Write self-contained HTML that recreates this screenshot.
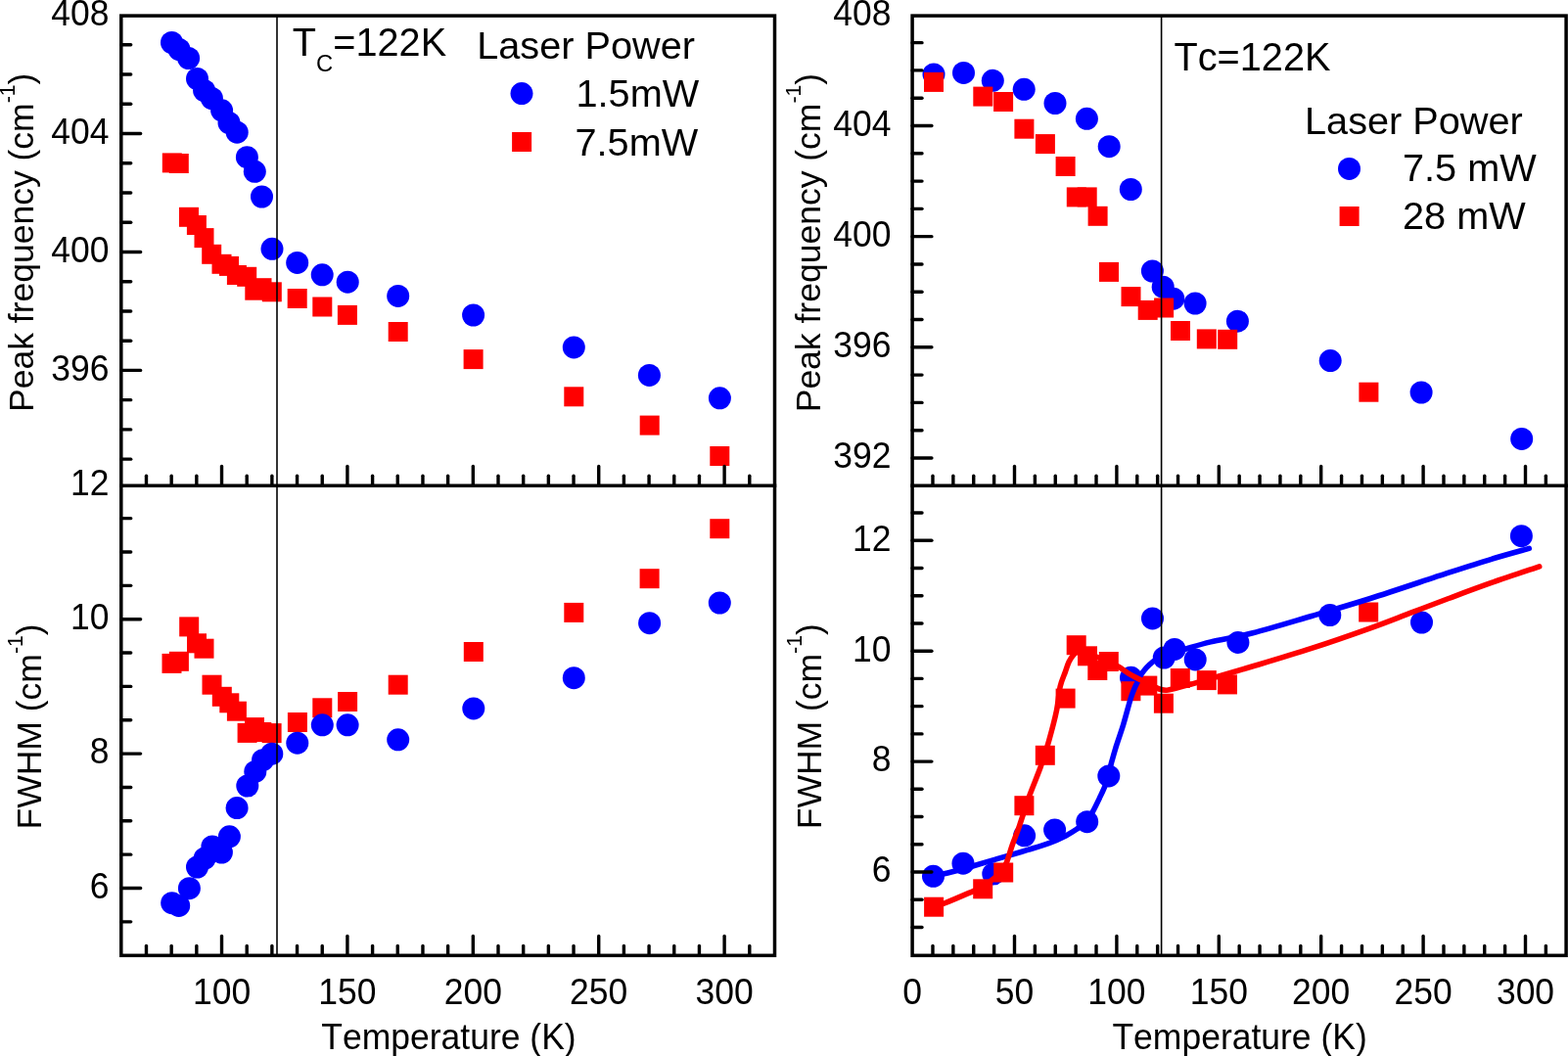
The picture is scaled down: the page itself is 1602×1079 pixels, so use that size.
<!DOCTYPE html>
<html><head><meta charset="utf-8"><title>Raman peak frequency and FWHM vs temperature</title>
<style>html,body{margin:0;padding:0;background:#fff;}svg{display:block;} text{font-kerning:none;}</style>
</head><body>
<svg width="1602" height="1079" viewBox="0 0 1602 1079" font-family='"Liberation Sans", Arial, Helvetica, sans-serif' fill="#000">
<rect x="0" y="0" width="1602" height="1079" fill="#fff"/>
<circle cx="175.50" cy="43.50" r="11.5" fill="#0000ff"/>
<circle cx="183.00" cy="50.50" r="11.5" fill="#0000ff"/>
<circle cx="192.60" cy="59.50" r="11.5" fill="#0000ff"/>
<circle cx="201.50" cy="80.50" r="11.5" fill="#0000ff"/>
<circle cx="208.60" cy="92.50" r="11.5" fill="#0000ff"/>
<circle cx="216.40" cy="100.50" r="11.5" fill="#0000ff"/>
<circle cx="226.60" cy="112.80" r="11.5" fill="#0000ff"/>
<circle cx="234.00" cy="125.50" r="11.5" fill="#0000ff"/>
<circle cx="242.20" cy="135.20" r="11.5" fill="#0000ff"/>
<circle cx="252.40" cy="160.70" r="11.5" fill="#0000ff"/>
<circle cx="260.30" cy="175.30" r="11.5" fill="#0000ff"/>
<circle cx="267.50" cy="201.00" r="11.5" fill="#0000ff"/>
<circle cx="278.00" cy="254.30" r="11.5" fill="#0000ff"/>
<circle cx="303.70" cy="268.40" r="11.5" fill="#0000ff"/>
<circle cx="329.20" cy="280.80" r="11.5" fill="#0000ff"/>
<circle cx="355.20" cy="288.20" r="11.5" fill="#0000ff"/>
<circle cx="406.70" cy="302.40" r="11.5" fill="#0000ff"/>
<circle cx="483.60" cy="322.00" r="11.5" fill="#0000ff"/>
<circle cx="586.30" cy="354.90" r="11.5" fill="#0000ff"/>
<circle cx="663.40" cy="383.40" r="11.5" fill="#0000ff"/>
<circle cx="735.40" cy="406.80" r="11.5" fill="#0000ff"/>
<rect x="165.80" y="156.40" width="20.0" height="20.0" fill="#ff0000"/>
<rect x="172.80" y="157.00" width="20.0" height="20.0" fill="#ff0000"/>
<rect x="183.00" y="211.80" width="20.0" height="20.0" fill="#ff0000"/>
<rect x="190.90" y="220.00" width="20.0" height="20.0" fill="#ff0000"/>
<rect x="198.50" y="233.10" width="20.0" height="20.0" fill="#ff0000"/>
<rect x="206.20" y="249.80" width="20.0" height="20.0" fill="#ff0000"/>
<rect x="216.50" y="259.80" width="20.0" height="20.0" fill="#ff0000"/>
<rect x="224.00" y="261.90" width="20.0" height="20.0" fill="#ff0000"/>
<rect x="231.90" y="271.00" width="20.0" height="20.0" fill="#ff0000"/>
<rect x="242.20" y="272.80" width="20.0" height="20.0" fill="#ff0000"/>
<rect x="250.30" y="286.70" width="20.0" height="20.0" fill="#ff0000"/>
<rect x="257.50" y="284.20" width="20.0" height="20.0" fill="#ff0000"/>
<rect x="267.80" y="288.30" width="20.0" height="20.0" fill="#ff0000"/>
<rect x="293.70" y="295.00" width="20.0" height="20.0" fill="#ff0000"/>
<rect x="319.30" y="303.50" width="20.0" height="20.0" fill="#ff0000"/>
<rect x="344.90" y="311.90" width="20.0" height="20.0" fill="#ff0000"/>
<rect x="396.70" y="329.00" width="20.0" height="20.0" fill="#ff0000"/>
<rect x="473.60" y="357.10" width="20.0" height="20.0" fill="#ff0000"/>
<rect x="576.30" y="395.30" width="20.0" height="20.0" fill="#ff0000"/>
<rect x="653.70" y="424.60" width="20.0" height="20.0" fill="#ff0000"/>
<rect x="725.30" y="456.00" width="20.0" height="20.0" fill="#ff0000"/>
<rect x="165.50" y="667.90" width="20.0" height="20.0" fill="#ff0000"/>
<rect x="172.90" y="665.80" width="20.0" height="20.0" fill="#ff0000"/>
<rect x="183.20" y="630.40" width="20.0" height="20.0" fill="#ff0000"/>
<rect x="191.00" y="647.30" width="20.0" height="20.0" fill="#ff0000"/>
<rect x="198.50" y="652.70" width="20.0" height="20.0" fill="#ff0000"/>
<rect x="206.50" y="689.70" width="20.0" height="20.0" fill="#ff0000"/>
<rect x="216.80" y="701.80" width="20.0" height="20.0" fill="#ff0000"/>
<rect x="224.30" y="708.30" width="20.0" height="20.0" fill="#ff0000"/>
<rect x="231.90" y="716.70" width="20.0" height="20.0" fill="#ff0000"/>
<rect x="242.60" y="738.90" width="20.0" height="20.0" fill="#ff0000"/>
<rect x="250.00" y="733.10" width="20.0" height="20.0" fill="#ff0000"/>
<rect x="257.30" y="738.00" width="20.0" height="20.0" fill="#ff0000"/>
<rect x="267.60" y="739.10" width="20.0" height="20.0" fill="#ff0000"/>
<rect x="293.90" y="728.00" width="20.0" height="20.0" fill="#ff0000"/>
<rect x="319.30" y="713.30" width="20.0" height="20.0" fill="#ff0000"/>
<rect x="345.10" y="707.00" width="20.0" height="20.0" fill="#ff0000"/>
<rect x="396.70" y="689.70" width="20.0" height="20.0" fill="#ff0000"/>
<rect x="473.80" y="656.00" width="20.0" height="20.0" fill="#ff0000"/>
<rect x="576.30" y="615.90" width="20.0" height="20.0" fill="#ff0000"/>
<rect x="653.60" y="581.20" width="20.0" height="20.0" fill="#ff0000"/>
<rect x="725.30" y="530.20" width="20.0" height="20.0" fill="#ff0000"/>
<circle cx="175.70" cy="922.70" r="11.5" fill="#0000ff"/>
<circle cx="182.70" cy="925.40" r="11.5" fill="#0000ff"/>
<circle cx="193.40" cy="907.70" r="11.5" fill="#0000ff"/>
<circle cx="201.50" cy="886.00" r="11.5" fill="#0000ff"/>
<circle cx="209.20" cy="877.00" r="11.5" fill="#0000ff"/>
<circle cx="216.90" cy="865.00" r="11.5" fill="#0000ff"/>
<circle cx="226.40" cy="871.00" r="11.5" fill="#0000ff"/>
<circle cx="234.40" cy="854.80" r="11.5" fill="#0000ff"/>
<circle cx="242.10" cy="825.60" r="11.5" fill="#0000ff"/>
<circle cx="252.80" cy="803.00" r="11.5" fill="#0000ff"/>
<circle cx="260.80" cy="788.40" r="11.5" fill="#0000ff"/>
<circle cx="268.50" cy="776.70" r="11.5" fill="#0000ff"/>
<circle cx="277.80" cy="770.20" r="11.5" fill="#0000ff"/>
<circle cx="303.80" cy="759.20" r="11.5" fill="#0000ff"/>
<circle cx="329.30" cy="740.80" r="11.5" fill="#0000ff"/>
<circle cx="355.10" cy="740.80" r="11.5" fill="#0000ff"/>
<circle cx="406.70" cy="755.80" r="11.5" fill="#0000ff"/>
<circle cx="483.80" cy="723.90" r="11.5" fill="#0000ff"/>
<circle cx="586.30" cy="692.70" r="11.5" fill="#0000ff"/>
<circle cx="663.60" cy="636.70" r="11.5" fill="#0000ff"/>
<circle cx="735.30" cy="616.00" r="11.5" fill="#0000ff"/>
<circle cx="954.00" cy="76.00" r="11.5" fill="#0000ff"/>
<circle cx="984.50" cy="74.40" r="11.5" fill="#0000ff"/>
<circle cx="1014.30" cy="82.30" r="11.5" fill="#0000ff"/>
<circle cx="1046.20" cy="91.30" r="11.5" fill="#0000ff"/>
<circle cx="1078.00" cy="105.50" r="11.5" fill="#0000ff"/>
<circle cx="1110.40" cy="121.30" r="11.5" fill="#0000ff"/>
<circle cx="1133.20" cy="149.70" r="11.5" fill="#0000ff"/>
<circle cx="1155.30" cy="193.50" r="11.5" fill="#0000ff"/>
<circle cx="1177.40" cy="277.00" r="11.5" fill="#0000ff"/>
<circle cx="1188.20" cy="293.20" r="11.5" fill="#0000ff"/>
<circle cx="1198.80" cy="305.20" r="11.5" fill="#0000ff"/>
<circle cx="1221.10" cy="310.00" r="11.5" fill="#0000ff"/>
<circle cx="1264.40" cy="328.20" r="11.5" fill="#0000ff"/>
<circle cx="1359.20" cy="368.60" r="11.5" fill="#0000ff"/>
<circle cx="1452.10" cy="401.00" r="11.5" fill="#0000ff"/>
<circle cx="1554.70" cy="448.40" r="11.5" fill="#0000ff"/>
<rect x="944.00" y="73.90" width="20.0" height="20.0" fill="#ff0000"/>
<rect x="994.30" y="88.60" width="20.0" height="20.0" fill="#ff0000"/>
<rect x="1015.10" y="94.00" width="20.0" height="20.0" fill="#ff0000"/>
<rect x="1036.40" y="121.70" width="20.0" height="20.0" fill="#ff0000"/>
<rect x="1057.90" y="137.10" width="20.0" height="20.0" fill="#ff0000"/>
<rect x="1078.60" y="160.00" width="20.0" height="20.0" fill="#ff0000"/>
<rect x="1089.80" y="191.40" width="20.0" height="20.0" fill="#ff0000"/>
<rect x="1100.70" y="191.40" width="20.0" height="20.0" fill="#ff0000"/>
<rect x="1111.60" y="210.80" width="20.0" height="20.0" fill="#ff0000"/>
<rect x="1123.00" y="267.90" width="20.0" height="20.0" fill="#ff0000"/>
<rect x="1145.50" y="293.10" width="20.0" height="20.0" fill="#ff0000"/>
<rect x="1162.70" y="306.90" width="20.0" height="20.0" fill="#ff0000"/>
<rect x="1179.10" y="304.50" width="20.0" height="20.0" fill="#ff0000"/>
<rect x="1196.00" y="328.00" width="20.0" height="20.0" fill="#ff0000"/>
<rect x="1222.80" y="336.40" width="20.0" height="20.0" fill="#ff0000"/>
<rect x="1244.20" y="336.80" width="20.0" height="20.0" fill="#ff0000"/>
<rect x="1388.40" y="390.70" width="20.0" height="20.0" fill="#ff0000"/>
<circle cx="953.50" cy="895.30" r="11.5" fill="#0000ff"/>
<circle cx="984.00" cy="882.20" r="11.5" fill="#0000ff"/>
<circle cx="1014.80" cy="893.00" r="11.5" fill="#0000ff"/>
<circle cx="1046.60" cy="853.80" r="11.5" fill="#0000ff"/>
<circle cx="1077.60" cy="848.00" r="11.5" fill="#0000ff"/>
<circle cx="1110.70" cy="839.70" r="11.5" fill="#0000ff"/>
<circle cx="1132.80" cy="792.90" r="11.5" fill="#0000ff"/>
<circle cx="1155.50" cy="692.30" r="11.5" fill="#0000ff"/>
<circle cx="1177.50" cy="631.90" r="11.5" fill="#0000ff"/>
<circle cx="1189.30" cy="672.00" r="11.5" fill="#0000ff"/>
<circle cx="1200.00" cy="663.40" r="11.5" fill="#0000ff"/>
<circle cx="1221.20" cy="673.90" r="11.5" fill="#0000ff"/>
<circle cx="1264.90" cy="656.40" r="11.5" fill="#0000ff"/>
<circle cx="1358.80" cy="628.50" r="11.5" fill="#0000ff"/>
<circle cx="1452.50" cy="636.00" r="11.5" fill="#0000ff"/>
<circle cx="1554.40" cy="547.70" r="11.5" fill="#0000ff"/>
<rect x="944.10" y="916.70" width="20.0" height="20.0" fill="#ff0000"/>
<rect x="994.20" y="898.30" width="20.0" height="20.0" fill="#ff0000"/>
<rect x="1015.20" y="881.50" width="20.0" height="20.0" fill="#ff0000"/>
<rect x="1036.40" y="813.20" width="20.0" height="20.0" fill="#ff0000"/>
<rect x="1057.80" y="761.80" width="20.0" height="20.0" fill="#ff0000"/>
<rect x="1078.60" y="703.60" width="20.0" height="20.0" fill="#ff0000"/>
<rect x="1089.70" y="649.20" width="20.0" height="20.0" fill="#ff0000"/>
<rect x="1101.00" y="660.30" width="20.0" height="20.0" fill="#ff0000"/>
<rect x="1111.30" y="675.00" width="20.0" height="20.0" fill="#ff0000"/>
<rect x="1122.80" y="666.00" width="20.0" height="20.0" fill="#ff0000"/>
<rect x="1145.40" y="696.20" width="20.0" height="20.0" fill="#ff0000"/>
<rect x="1162.30" y="690.60" width="20.0" height="20.0" fill="#ff0000"/>
<rect x="1178.90" y="708.70" width="20.0" height="20.0" fill="#ff0000"/>
<rect x="1195.80" y="683.00" width="20.0" height="20.0" fill="#ff0000"/>
<rect x="1222.80" y="685.10" width="20.0" height="20.0" fill="#ff0000"/>
<rect x="1244.00" y="689.40" width="20.0" height="20.0" fill="#ff0000"/>
<rect x="1388.20" y="615.50" width="20.0" height="20.0" fill="#ff0000"/>
<path d="M953.50,895.50 C957.08,894.63 968.02,892.13 975.00,890.30 C981.98,888.47 986.68,887.03 995.40,884.50 C1004.12,881.97 1018.20,877.78 1027.30,875.10 C1036.40,872.42 1042.52,870.68 1050.00,868.40 C1057.48,866.12 1065.72,863.82 1072.20,861.40 C1078.68,858.98 1084.27,856.25 1088.90,853.90 C1093.53,851.55 1096.48,849.70 1100.00,847.30 C1103.52,844.90 1107.22,842.57 1110.00,839.50 C1112.78,836.43 1114.48,832.88 1116.70,828.90 C1118.92,824.92 1121.27,819.87 1123.30,815.60 C1125.33,811.33 1127.42,807.23 1128.90,803.30 C1130.38,799.37 1131.10,795.97 1132.20,792.00 C1133.30,788.03 1134.12,784.47 1135.50,779.50 C1136.88,774.53 1138.45,768.78 1140.50,762.20 C1142.55,755.62 1145.42,747.87 1147.80,740.00 C1150.18,732.13 1153.03,720.83 1154.80,715.00 C1156.57,709.17 1157.30,707.77 1158.40,705.00 C1159.50,702.23 1160.55,700.15 1161.40,698.40 C1162.25,696.65 1163.15,695.15 1163.50,694.50 L1163.50,694.50 C1163.75,693.83 1164.05,692.13 1165.00,690.50 C1165.95,688.87 1167.57,686.65 1169.20,684.70 C1170.83,682.75 1173.00,680.50 1174.80,678.80 C1176.60,677.10 1177.63,676.00 1180.00,674.50 C1182.37,673.00 1185.67,671.15 1189.00,669.80 C1192.33,668.45 1196.33,667.50 1200.00,666.40 C1203.67,665.30 1204.83,664.95 1211.00,663.20 C1217.17,661.45 1225.50,658.63 1237.00,655.90 C1248.50,653.17 1262.83,651.20 1280.00,646.80 C1297.17,642.40 1320.00,635.38 1340.00,629.50 C1360.00,623.62 1376.67,618.88 1400.00,611.50 C1423.33,604.12 1459.25,591.93 1480.00,585.20 C1500.75,578.47 1510.78,575.23 1524.50,571.10 C1538.22,566.97 1556.00,562.18 1562.30,560.40" fill="none" stroke="#0000ff" stroke-width="5.6" stroke-linecap="round" stroke-linejoin="round"/>
<path d="M954.00,926.60 C955.82,926.00 958.90,925.37 964.90,923.00 C970.90,920.63 983.48,915.23 990.00,912.40 C996.52,909.57 999.67,908.57 1004.00,906.00 C1008.33,903.43 1012.67,899.92 1016.00,897.00 C1019.33,894.08 1021.92,891.17 1024.00,888.50 C1026.08,885.83 1026.77,885.25 1028.50,881.00 C1030.23,876.75 1032.20,869.28 1034.40,863.00 C1036.60,856.72 1038.82,851.58 1041.70,843.30 C1044.58,835.02 1048.10,823.30 1051.70,813.30 C1055.30,803.30 1059.97,792.73 1063.30,783.30 C1066.63,773.87 1069.00,766.25 1071.70,756.70 C1074.40,747.15 1077.58,735.22 1079.50,726.00 C1081.42,716.78 1081.72,707.98 1083.20,701.40 C1084.68,694.82 1086.92,690.70 1088.40,686.50 C1089.88,682.30 1090.75,679.03 1092.10,676.20 C1093.45,673.37 1095.15,671.12 1096.50,669.50 C1097.85,667.88 1098.62,667.17 1100.20,666.50 C1101.78,665.83 1102.70,664.75 1106.00,665.50 C1109.30,666.25 1115.50,669.08 1120.00,671.00 C1124.50,672.92 1129.20,675.28 1133.00,677.00 C1136.80,678.72 1139.40,679.42 1142.80,681.30 C1146.20,683.18 1149.78,686.13 1153.40,688.30 C1157.02,690.47 1160.90,692.43 1164.50,694.30 C1168.10,696.17 1171.70,697.88 1175.00,699.50 C1178.30,701.12 1181.63,703.05 1184.30,704.00 C1186.97,704.95 1189.07,705.10 1191.00,705.20 C1192.93,705.30 1191.75,705.58 1195.90,704.60 C1200.05,703.62 1211.50,700.47 1215.90,699.30 C1220.30,698.13 1211.62,700.68 1222.30,697.60 C1232.98,694.52 1260.38,686.67 1280.00,680.80 C1299.62,674.93 1320.00,668.90 1340.00,662.40 C1360.00,655.90 1383.33,647.75 1400.00,641.80 C1416.67,635.85 1426.67,631.75 1440.00,626.70 C1453.33,621.65 1465.92,616.75 1480.00,611.50 C1494.08,606.25 1509.05,600.63 1524.50,595.20 C1539.95,589.77 1564.67,581.62 1572.70,578.90" fill="none" stroke="#ff0000" stroke-width="5.6" stroke-linecap="round" stroke-linejoin="round"/>
<line x1="283.00" y1="16.10" x2="283.00" y2="976.30" stroke="#000" stroke-width="1.6" stroke-linecap="butt"/>
<line x1="1186.60" y1="16.10" x2="1186.60" y2="976.30" stroke="#000" stroke-width="1.6" stroke-linecap="butt"/>
<g fill="none" stroke="#000" stroke-width="3.5" stroke-linecap="square">
<rect x="123.80" y="16.10" width="667.70" height="960.20"/>
<line x1="123.80" y1="496.20" x2="791.50" y2="496.20"/>
<rect x="932.10" y="16.10" width="668.00" height="960.20"/>
<line x1="932.10" y1="496.20" x2="1600.10" y2="496.20"/>
</g>
<line x1="149.48" y1="496.20" x2="149.48" y2="486.30" stroke="#000" stroke-width="3.4" stroke-linecap="round"/>
<line x1="175.16" y1="496.20" x2="175.16" y2="486.30" stroke="#000" stroke-width="3.4" stroke-linecap="round"/>
<line x1="200.84" y1="496.20" x2="200.84" y2="486.30" stroke="#000" stroke-width="3.4" stroke-linecap="round"/>
<line x1="226.52" y1="496.20" x2="226.52" y2="476.40" stroke="#000" stroke-width="3.4" stroke-linecap="round"/>
<line x1="252.20" y1="496.20" x2="252.20" y2="486.30" stroke="#000" stroke-width="3.4" stroke-linecap="round"/>
<line x1="277.88" y1="496.20" x2="277.88" y2="486.30" stroke="#000" stroke-width="3.4" stroke-linecap="round"/>
<line x1="303.56" y1="496.20" x2="303.56" y2="486.30" stroke="#000" stroke-width="3.4" stroke-linecap="round"/>
<line x1="329.24" y1="496.20" x2="329.24" y2="486.30" stroke="#000" stroke-width="3.4" stroke-linecap="round"/>
<line x1="354.92" y1="496.20" x2="354.92" y2="476.40" stroke="#000" stroke-width="3.4" stroke-linecap="round"/>
<line x1="380.60" y1="496.20" x2="380.60" y2="486.30" stroke="#000" stroke-width="3.4" stroke-linecap="round"/>
<line x1="406.28" y1="496.20" x2="406.28" y2="486.30" stroke="#000" stroke-width="3.4" stroke-linecap="round"/>
<line x1="431.96" y1="496.20" x2="431.96" y2="486.30" stroke="#000" stroke-width="3.4" stroke-linecap="round"/>
<line x1="457.64" y1="496.20" x2="457.64" y2="486.30" stroke="#000" stroke-width="3.4" stroke-linecap="round"/>
<line x1="483.32" y1="496.20" x2="483.32" y2="476.40" stroke="#000" stroke-width="3.4" stroke-linecap="round"/>
<line x1="509.00" y1="496.20" x2="509.00" y2="486.30" stroke="#000" stroke-width="3.4" stroke-linecap="round"/>
<line x1="534.68" y1="496.20" x2="534.68" y2="486.30" stroke="#000" stroke-width="3.4" stroke-linecap="round"/>
<line x1="560.36" y1="496.20" x2="560.36" y2="486.30" stroke="#000" stroke-width="3.4" stroke-linecap="round"/>
<line x1="586.04" y1="496.20" x2="586.04" y2="486.30" stroke="#000" stroke-width="3.4" stroke-linecap="round"/>
<line x1="611.72" y1="496.20" x2="611.72" y2="476.40" stroke="#000" stroke-width="3.4" stroke-linecap="round"/>
<line x1="637.40" y1="496.20" x2="637.40" y2="486.30" stroke="#000" stroke-width="3.4" stroke-linecap="round"/>
<line x1="663.08" y1="496.20" x2="663.08" y2="486.30" stroke="#000" stroke-width="3.4" stroke-linecap="round"/>
<line x1="688.76" y1="496.20" x2="688.76" y2="486.30" stroke="#000" stroke-width="3.4" stroke-linecap="round"/>
<line x1="714.44" y1="496.20" x2="714.44" y2="486.30" stroke="#000" stroke-width="3.4" stroke-linecap="round"/>
<line x1="740.12" y1="496.20" x2="740.12" y2="476.40" stroke="#000" stroke-width="3.4" stroke-linecap="round"/>
<line x1="765.80" y1="496.20" x2="765.80" y2="486.30" stroke="#000" stroke-width="3.4" stroke-linecap="round"/>
<line x1="149.48" y1="976.30" x2="149.48" y2="966.40" stroke="#000" stroke-width="3.4" stroke-linecap="round"/>
<line x1="175.16" y1="976.30" x2="175.16" y2="966.40" stroke="#000" stroke-width="3.4" stroke-linecap="round"/>
<line x1="200.84" y1="976.30" x2="200.84" y2="966.40" stroke="#000" stroke-width="3.4" stroke-linecap="round"/>
<line x1="226.52" y1="976.30" x2="226.52" y2="956.50" stroke="#000" stroke-width="3.4" stroke-linecap="round"/>
<line x1="252.20" y1="976.30" x2="252.20" y2="966.40" stroke="#000" stroke-width="3.4" stroke-linecap="round"/>
<line x1="277.88" y1="976.30" x2="277.88" y2="966.40" stroke="#000" stroke-width="3.4" stroke-linecap="round"/>
<line x1="303.56" y1="976.30" x2="303.56" y2="966.40" stroke="#000" stroke-width="3.4" stroke-linecap="round"/>
<line x1="329.24" y1="976.30" x2="329.24" y2="966.40" stroke="#000" stroke-width="3.4" stroke-linecap="round"/>
<line x1="354.92" y1="976.30" x2="354.92" y2="956.50" stroke="#000" stroke-width="3.4" stroke-linecap="round"/>
<line x1="380.60" y1="976.30" x2="380.60" y2="966.40" stroke="#000" stroke-width="3.4" stroke-linecap="round"/>
<line x1="406.28" y1="976.30" x2="406.28" y2="966.40" stroke="#000" stroke-width="3.4" stroke-linecap="round"/>
<line x1="431.96" y1="976.30" x2="431.96" y2="966.40" stroke="#000" stroke-width="3.4" stroke-linecap="round"/>
<line x1="457.64" y1="976.30" x2="457.64" y2="966.40" stroke="#000" stroke-width="3.4" stroke-linecap="round"/>
<line x1="483.32" y1="976.30" x2="483.32" y2="956.50" stroke="#000" stroke-width="3.4" stroke-linecap="round"/>
<line x1="509.00" y1="976.30" x2="509.00" y2="966.40" stroke="#000" stroke-width="3.4" stroke-linecap="round"/>
<line x1="534.68" y1="976.30" x2="534.68" y2="966.40" stroke="#000" stroke-width="3.4" stroke-linecap="round"/>
<line x1="560.36" y1="976.30" x2="560.36" y2="966.40" stroke="#000" stroke-width="3.4" stroke-linecap="round"/>
<line x1="586.04" y1="976.30" x2="586.04" y2="966.40" stroke="#000" stroke-width="3.4" stroke-linecap="round"/>
<line x1="611.72" y1="976.30" x2="611.72" y2="956.50" stroke="#000" stroke-width="3.4" stroke-linecap="round"/>
<line x1="637.40" y1="976.30" x2="637.40" y2="966.40" stroke="#000" stroke-width="3.4" stroke-linecap="round"/>
<line x1="663.08" y1="976.30" x2="663.08" y2="966.40" stroke="#000" stroke-width="3.4" stroke-linecap="round"/>
<line x1="688.76" y1="976.30" x2="688.76" y2="966.40" stroke="#000" stroke-width="3.4" stroke-linecap="round"/>
<line x1="714.44" y1="976.30" x2="714.44" y2="966.40" stroke="#000" stroke-width="3.4" stroke-linecap="round"/>
<line x1="740.12" y1="976.30" x2="740.12" y2="956.50" stroke="#000" stroke-width="3.4" stroke-linecap="round"/>
<line x1="765.80" y1="976.30" x2="765.80" y2="966.40" stroke="#000" stroke-width="3.4" stroke-linecap="round"/>
<line x1="952.98" y1="496.20" x2="952.98" y2="486.30" stroke="#000" stroke-width="3.4" stroke-linecap="round"/>
<line x1="973.86" y1="496.20" x2="973.86" y2="486.30" stroke="#000" stroke-width="3.4" stroke-linecap="round"/>
<line x1="994.74" y1="496.20" x2="994.74" y2="486.30" stroke="#000" stroke-width="3.4" stroke-linecap="round"/>
<line x1="1015.62" y1="496.20" x2="1015.62" y2="486.30" stroke="#000" stroke-width="3.4" stroke-linecap="round"/>
<line x1="1036.50" y1="496.20" x2="1036.50" y2="476.40" stroke="#000" stroke-width="3.4" stroke-linecap="round"/>
<line x1="1057.38" y1="496.20" x2="1057.38" y2="486.30" stroke="#000" stroke-width="3.4" stroke-linecap="round"/>
<line x1="1078.26" y1="496.20" x2="1078.26" y2="486.30" stroke="#000" stroke-width="3.4" stroke-linecap="round"/>
<line x1="1099.14" y1="496.20" x2="1099.14" y2="486.30" stroke="#000" stroke-width="3.4" stroke-linecap="round"/>
<line x1="1120.02" y1="496.20" x2="1120.02" y2="486.30" stroke="#000" stroke-width="3.4" stroke-linecap="round"/>
<line x1="1140.90" y1="496.20" x2="1140.90" y2="476.40" stroke="#000" stroke-width="3.4" stroke-linecap="round"/>
<line x1="1161.78" y1="496.20" x2="1161.78" y2="486.30" stroke="#000" stroke-width="3.4" stroke-linecap="round"/>
<line x1="1182.66" y1="496.20" x2="1182.66" y2="486.30" stroke="#000" stroke-width="3.4" stroke-linecap="round"/>
<line x1="1203.54" y1="496.20" x2="1203.54" y2="486.30" stroke="#000" stroke-width="3.4" stroke-linecap="round"/>
<line x1="1224.42" y1="496.20" x2="1224.42" y2="486.30" stroke="#000" stroke-width="3.4" stroke-linecap="round"/>
<line x1="1245.30" y1="496.20" x2="1245.30" y2="476.40" stroke="#000" stroke-width="3.4" stroke-linecap="round"/>
<line x1="1266.18" y1="496.20" x2="1266.18" y2="486.30" stroke="#000" stroke-width="3.4" stroke-linecap="round"/>
<line x1="1287.06" y1="496.20" x2="1287.06" y2="486.30" stroke="#000" stroke-width="3.4" stroke-linecap="round"/>
<line x1="1307.94" y1="496.20" x2="1307.94" y2="486.30" stroke="#000" stroke-width="3.4" stroke-linecap="round"/>
<line x1="1328.82" y1="496.20" x2="1328.82" y2="486.30" stroke="#000" stroke-width="3.4" stroke-linecap="round"/>
<line x1="1349.70" y1="496.20" x2="1349.70" y2="476.40" stroke="#000" stroke-width="3.4" stroke-linecap="round"/>
<line x1="1370.58" y1="496.20" x2="1370.58" y2="486.30" stroke="#000" stroke-width="3.4" stroke-linecap="round"/>
<line x1="1391.46" y1="496.20" x2="1391.46" y2="486.30" stroke="#000" stroke-width="3.4" stroke-linecap="round"/>
<line x1="1412.34" y1="496.20" x2="1412.34" y2="486.30" stroke="#000" stroke-width="3.4" stroke-linecap="round"/>
<line x1="1433.22" y1="496.20" x2="1433.22" y2="486.30" stroke="#000" stroke-width="3.4" stroke-linecap="round"/>
<line x1="1454.10" y1="496.20" x2="1454.10" y2="476.40" stroke="#000" stroke-width="3.4" stroke-linecap="round"/>
<line x1="1474.98" y1="496.20" x2="1474.98" y2="486.30" stroke="#000" stroke-width="3.4" stroke-linecap="round"/>
<line x1="1495.86" y1="496.20" x2="1495.86" y2="486.30" stroke="#000" stroke-width="3.4" stroke-linecap="round"/>
<line x1="1516.74" y1="496.20" x2="1516.74" y2="486.30" stroke="#000" stroke-width="3.4" stroke-linecap="round"/>
<line x1="1537.62" y1="496.20" x2="1537.62" y2="486.30" stroke="#000" stroke-width="3.4" stroke-linecap="round"/>
<line x1="1558.50" y1="496.20" x2="1558.50" y2="476.40" stroke="#000" stroke-width="3.4" stroke-linecap="round"/>
<line x1="1579.38" y1="496.20" x2="1579.38" y2="486.30" stroke="#000" stroke-width="3.4" stroke-linecap="round"/>
<line x1="952.98" y1="976.30" x2="952.98" y2="966.40" stroke="#000" stroke-width="3.4" stroke-linecap="round"/>
<line x1="973.86" y1="976.30" x2="973.86" y2="966.40" stroke="#000" stroke-width="3.4" stroke-linecap="round"/>
<line x1="994.74" y1="976.30" x2="994.74" y2="966.40" stroke="#000" stroke-width="3.4" stroke-linecap="round"/>
<line x1="1015.62" y1="976.30" x2="1015.62" y2="966.40" stroke="#000" stroke-width="3.4" stroke-linecap="round"/>
<line x1="1036.50" y1="976.30" x2="1036.50" y2="956.50" stroke="#000" stroke-width="3.4" stroke-linecap="round"/>
<line x1="1057.38" y1="976.30" x2="1057.38" y2="966.40" stroke="#000" stroke-width="3.4" stroke-linecap="round"/>
<line x1="1078.26" y1="976.30" x2="1078.26" y2="966.40" stroke="#000" stroke-width="3.4" stroke-linecap="round"/>
<line x1="1099.14" y1="976.30" x2="1099.14" y2="966.40" stroke="#000" stroke-width="3.4" stroke-linecap="round"/>
<line x1="1120.02" y1="976.30" x2="1120.02" y2="966.40" stroke="#000" stroke-width="3.4" stroke-linecap="round"/>
<line x1="1140.90" y1="976.30" x2="1140.90" y2="956.50" stroke="#000" stroke-width="3.4" stroke-linecap="round"/>
<line x1="1161.78" y1="976.30" x2="1161.78" y2="966.40" stroke="#000" stroke-width="3.4" stroke-linecap="round"/>
<line x1="1182.66" y1="976.30" x2="1182.66" y2="966.40" stroke="#000" stroke-width="3.4" stroke-linecap="round"/>
<line x1="1203.54" y1="976.30" x2="1203.54" y2="966.40" stroke="#000" stroke-width="3.4" stroke-linecap="round"/>
<line x1="1224.42" y1="976.30" x2="1224.42" y2="966.40" stroke="#000" stroke-width="3.4" stroke-linecap="round"/>
<line x1="1245.30" y1="976.30" x2="1245.30" y2="956.50" stroke="#000" stroke-width="3.4" stroke-linecap="round"/>
<line x1="1266.18" y1="976.30" x2="1266.18" y2="966.40" stroke="#000" stroke-width="3.4" stroke-linecap="round"/>
<line x1="1287.06" y1="976.30" x2="1287.06" y2="966.40" stroke="#000" stroke-width="3.4" stroke-linecap="round"/>
<line x1="1307.94" y1="976.30" x2="1307.94" y2="966.40" stroke="#000" stroke-width="3.4" stroke-linecap="round"/>
<line x1="1328.82" y1="976.30" x2="1328.82" y2="966.40" stroke="#000" stroke-width="3.4" stroke-linecap="round"/>
<line x1="1349.70" y1="976.30" x2="1349.70" y2="956.50" stroke="#000" stroke-width="3.4" stroke-linecap="round"/>
<line x1="1370.58" y1="976.30" x2="1370.58" y2="966.40" stroke="#000" stroke-width="3.4" stroke-linecap="round"/>
<line x1="1391.46" y1="976.30" x2="1391.46" y2="966.40" stroke="#000" stroke-width="3.4" stroke-linecap="round"/>
<line x1="1412.34" y1="976.30" x2="1412.34" y2="966.40" stroke="#000" stroke-width="3.4" stroke-linecap="round"/>
<line x1="1433.22" y1="976.30" x2="1433.22" y2="966.40" stroke="#000" stroke-width="3.4" stroke-linecap="round"/>
<line x1="1454.10" y1="976.30" x2="1454.10" y2="956.50" stroke="#000" stroke-width="3.4" stroke-linecap="round"/>
<line x1="1474.98" y1="976.30" x2="1474.98" y2="966.40" stroke="#000" stroke-width="3.4" stroke-linecap="round"/>
<line x1="1495.86" y1="976.30" x2="1495.86" y2="966.40" stroke="#000" stroke-width="3.4" stroke-linecap="round"/>
<line x1="1516.74" y1="976.30" x2="1516.74" y2="966.40" stroke="#000" stroke-width="3.4" stroke-linecap="round"/>
<line x1="1537.62" y1="976.30" x2="1537.62" y2="966.40" stroke="#000" stroke-width="3.4" stroke-linecap="round"/>
<line x1="1558.50" y1="976.30" x2="1558.50" y2="956.50" stroke="#000" stroke-width="3.4" stroke-linecap="round"/>
<line x1="1579.38" y1="976.30" x2="1579.38" y2="966.40" stroke="#000" stroke-width="3.4" stroke-linecap="round"/>
<line x1="123.80" y1="469.14" x2="133.70" y2="469.14" stroke="#000" stroke-width="3.4" stroke-linecap="round"/>
<line x1="123.80" y1="438.90" x2="133.70" y2="438.90" stroke="#000" stroke-width="3.4" stroke-linecap="round"/>
<line x1="123.80" y1="408.66" x2="133.70" y2="408.66" stroke="#000" stroke-width="3.4" stroke-linecap="round"/>
<line x1="123.80" y1="378.42" x2="143.60" y2="378.42" stroke="#000" stroke-width="3.4" stroke-linecap="round"/>
<line x1="123.80" y1="348.18" x2="133.70" y2="348.18" stroke="#000" stroke-width="3.4" stroke-linecap="round"/>
<line x1="123.80" y1="317.94" x2="133.70" y2="317.94" stroke="#000" stroke-width="3.4" stroke-linecap="round"/>
<line x1="123.80" y1="287.70" x2="133.70" y2="287.70" stroke="#000" stroke-width="3.4" stroke-linecap="round"/>
<line x1="123.80" y1="257.46" x2="143.60" y2="257.46" stroke="#000" stroke-width="3.4" stroke-linecap="round"/>
<line x1="123.80" y1="227.22" x2="133.70" y2="227.22" stroke="#000" stroke-width="3.4" stroke-linecap="round"/>
<line x1="123.80" y1="196.98" x2="133.70" y2="196.98" stroke="#000" stroke-width="3.4" stroke-linecap="round"/>
<line x1="123.80" y1="166.74" x2="133.70" y2="166.74" stroke="#000" stroke-width="3.4" stroke-linecap="round"/>
<line x1="123.80" y1="136.50" x2="143.60" y2="136.50" stroke="#000" stroke-width="3.4" stroke-linecap="round"/>
<line x1="123.80" y1="106.26" x2="133.70" y2="106.26" stroke="#000" stroke-width="3.4" stroke-linecap="round"/>
<line x1="123.80" y1="76.02" x2="133.70" y2="76.02" stroke="#000" stroke-width="3.4" stroke-linecap="round"/>
<line x1="123.80" y1="45.78" x2="133.70" y2="45.78" stroke="#000" stroke-width="3.4" stroke-linecap="round"/>
<line x1="123.80" y1="941.85" x2="133.70" y2="941.85" stroke="#000" stroke-width="3.4" stroke-linecap="round"/>
<line x1="123.80" y1="907.50" x2="143.60" y2="907.50" stroke="#000" stroke-width="3.4" stroke-linecap="round"/>
<line x1="123.80" y1="873.15" x2="133.70" y2="873.15" stroke="#000" stroke-width="3.4" stroke-linecap="round"/>
<line x1="123.80" y1="838.80" x2="133.70" y2="838.80" stroke="#000" stroke-width="3.4" stroke-linecap="round"/>
<line x1="123.80" y1="804.45" x2="133.70" y2="804.45" stroke="#000" stroke-width="3.4" stroke-linecap="round"/>
<line x1="123.80" y1="770.10" x2="143.60" y2="770.10" stroke="#000" stroke-width="3.4" stroke-linecap="round"/>
<line x1="123.80" y1="735.75" x2="133.70" y2="735.75" stroke="#000" stroke-width="3.4" stroke-linecap="round"/>
<line x1="123.80" y1="701.40" x2="133.70" y2="701.40" stroke="#000" stroke-width="3.4" stroke-linecap="round"/>
<line x1="123.80" y1="667.05" x2="133.70" y2="667.05" stroke="#000" stroke-width="3.4" stroke-linecap="round"/>
<line x1="123.80" y1="632.70" x2="143.60" y2="632.70" stroke="#000" stroke-width="3.4" stroke-linecap="round"/>
<line x1="123.80" y1="598.35" x2="133.70" y2="598.35" stroke="#000" stroke-width="3.4" stroke-linecap="round"/>
<line x1="123.80" y1="564.00" x2="133.70" y2="564.00" stroke="#000" stroke-width="3.4" stroke-linecap="round"/>
<line x1="123.80" y1="529.65" x2="133.70" y2="529.65" stroke="#000" stroke-width="3.4" stroke-linecap="round"/>
<line x1="932.10" y1="467.98" x2="951.90" y2="467.98" stroke="#000" stroke-width="3.4" stroke-linecap="round"/>
<line x1="932.10" y1="439.69" x2="942.00" y2="439.69" stroke="#000" stroke-width="3.4" stroke-linecap="round"/>
<line x1="932.10" y1="411.40" x2="942.00" y2="411.40" stroke="#000" stroke-width="3.4" stroke-linecap="round"/>
<line x1="932.10" y1="383.11" x2="942.00" y2="383.11" stroke="#000" stroke-width="3.4" stroke-linecap="round"/>
<line x1="932.10" y1="354.82" x2="951.90" y2="354.82" stroke="#000" stroke-width="3.4" stroke-linecap="round"/>
<line x1="932.10" y1="326.53" x2="942.00" y2="326.53" stroke="#000" stroke-width="3.4" stroke-linecap="round"/>
<line x1="932.10" y1="298.24" x2="942.00" y2="298.24" stroke="#000" stroke-width="3.4" stroke-linecap="round"/>
<line x1="932.10" y1="269.95" x2="942.00" y2="269.95" stroke="#000" stroke-width="3.4" stroke-linecap="round"/>
<line x1="932.10" y1="241.66" x2="951.90" y2="241.66" stroke="#000" stroke-width="3.4" stroke-linecap="round"/>
<line x1="932.10" y1="213.37" x2="942.00" y2="213.37" stroke="#000" stroke-width="3.4" stroke-linecap="round"/>
<line x1="932.10" y1="185.08" x2="942.00" y2="185.08" stroke="#000" stroke-width="3.4" stroke-linecap="round"/>
<line x1="932.10" y1="156.79" x2="942.00" y2="156.79" stroke="#000" stroke-width="3.4" stroke-linecap="round"/>
<line x1="932.10" y1="128.50" x2="951.90" y2="128.50" stroke="#000" stroke-width="3.4" stroke-linecap="round"/>
<line x1="932.10" y1="100.21" x2="942.00" y2="100.21" stroke="#000" stroke-width="3.4" stroke-linecap="round"/>
<line x1="932.10" y1="71.92" x2="942.00" y2="71.92" stroke="#000" stroke-width="3.4" stroke-linecap="round"/>
<line x1="932.10" y1="43.63" x2="942.00" y2="43.63" stroke="#000" stroke-width="3.4" stroke-linecap="round"/>
<line x1="932.10" y1="947.45" x2="942.00" y2="947.45" stroke="#000" stroke-width="3.4" stroke-linecap="round"/>
<line x1="932.10" y1="919.22" x2="942.00" y2="919.22" stroke="#000" stroke-width="3.4" stroke-linecap="round"/>
<line x1="932.10" y1="891.00" x2="951.90" y2="891.00" stroke="#000" stroke-width="3.4" stroke-linecap="round"/>
<line x1="932.10" y1="862.77" x2="942.00" y2="862.77" stroke="#000" stroke-width="3.4" stroke-linecap="round"/>
<line x1="932.10" y1="834.55" x2="942.00" y2="834.55" stroke="#000" stroke-width="3.4" stroke-linecap="round"/>
<line x1="932.10" y1="806.32" x2="942.00" y2="806.32" stroke="#000" stroke-width="3.4" stroke-linecap="round"/>
<line x1="932.10" y1="778.10" x2="951.90" y2="778.10" stroke="#000" stroke-width="3.4" stroke-linecap="round"/>
<line x1="932.10" y1="749.88" x2="942.00" y2="749.88" stroke="#000" stroke-width="3.4" stroke-linecap="round"/>
<line x1="932.10" y1="721.65" x2="942.00" y2="721.65" stroke="#000" stroke-width="3.4" stroke-linecap="round"/>
<line x1="932.10" y1="693.42" x2="942.00" y2="693.42" stroke="#000" stroke-width="3.4" stroke-linecap="round"/>
<line x1="932.10" y1="665.20" x2="951.90" y2="665.20" stroke="#000" stroke-width="3.4" stroke-linecap="round"/>
<line x1="932.10" y1="636.97" x2="942.00" y2="636.97" stroke="#000" stroke-width="3.4" stroke-linecap="round"/>
<line x1="932.10" y1="608.75" x2="942.00" y2="608.75" stroke="#000" stroke-width="3.4" stroke-linecap="round"/>
<line x1="932.10" y1="580.52" x2="942.00" y2="580.52" stroke="#000" stroke-width="3.4" stroke-linecap="round"/>
<line x1="932.10" y1="552.30" x2="951.90" y2="552.30" stroke="#000" stroke-width="3.4" stroke-linecap="round"/>
<line x1="932.10" y1="524.07" x2="942.00" y2="524.07" stroke="#000" stroke-width="3.4" stroke-linecap="round"/>
<text transform="translate(226.52,1026.00) scale(1,1.055)" font-size="35.5" text-anchor="middle">100</text>
<text transform="translate(354.92,1026.00) scale(1,1.055)" font-size="35.5" text-anchor="middle">150</text>
<text transform="translate(483.32,1026.00) scale(1,1.055)" font-size="35.5" text-anchor="middle">200</text>
<text transform="translate(611.72,1026.00) scale(1,1.055)" font-size="35.5" text-anchor="middle">250</text>
<text transform="translate(740.12,1026.00) scale(1,1.055)" font-size="35.5" text-anchor="middle">300</text>
<text transform="translate(932.10,1026.00) scale(1,1.055)" font-size="35.5" text-anchor="middle">0</text>
<text transform="translate(1036.50,1026.00) scale(1,1.055)" font-size="35.5" text-anchor="middle">50</text>
<text transform="translate(1140.90,1026.00) scale(1,1.055)" font-size="35.5" text-anchor="middle">100</text>
<text transform="translate(1245.30,1026.00) scale(1,1.055)" font-size="35.5" text-anchor="middle">150</text>
<text transform="translate(1349.70,1026.00) scale(1,1.055)" font-size="35.5" text-anchor="middle">200</text>
<text transform="translate(1454.10,1026.00) scale(1,1.055)" font-size="35.5" text-anchor="middle">250</text>
<text transform="translate(1558.50,1026.00) scale(1,1.055)" font-size="35.5" text-anchor="middle">300</text>
<text transform="translate(111.50,25.84) scale(1,1.055)" font-size="35.5" text-anchor="end">408</text>
<text transform="translate(111.50,146.80) scale(1,1.055)" font-size="35.5" text-anchor="end">404</text>
<text transform="translate(111.50,267.76) scale(1,1.055)" font-size="35.5" text-anchor="end">400</text>
<text transform="translate(111.50,388.72) scale(1,1.055)" font-size="35.5" text-anchor="end">396</text>
<text transform="translate(111.50,505.60) scale(1,1.055)" font-size="35.5" text-anchor="end">12</text>
<text transform="translate(111.50,643.00) scale(1,1.055)" font-size="35.5" text-anchor="end">10</text>
<text transform="translate(111.50,780.40) scale(1,1.055)" font-size="35.5" text-anchor="end">8</text>
<text transform="translate(111.50,917.80) scale(1,1.055)" font-size="35.5" text-anchor="end">6</text>
<text transform="translate(910.50,25.64) scale(1,1.055)" font-size="35.5" text-anchor="end">408</text>
<text transform="translate(910.50,138.80) scale(1,1.055)" font-size="35.5" text-anchor="end">404</text>
<text transform="translate(910.50,251.96) scale(1,1.055)" font-size="35.5" text-anchor="end">400</text>
<text transform="translate(910.50,365.12) scale(1,1.055)" font-size="35.5" text-anchor="end">396</text>
<text transform="translate(910.50,478.28) scale(1,1.055)" font-size="35.5" text-anchor="end">392</text>
<text transform="translate(910.50,562.60) scale(1,1.055)" font-size="35.5" text-anchor="end">12</text>
<text transform="translate(910.50,675.50) scale(1,1.055)" font-size="35.5" text-anchor="end">10</text>
<text transform="translate(910.50,788.40) scale(1,1.055)" font-size="35.5" text-anchor="end">8</text>
<text transform="translate(910.50,901.30) scale(1,1.055)" font-size="35.5" text-anchor="end">6</text>
<text transform="translate(458.50,1071.60) scale(1,1.04)" font-size="35.5" text-anchor="middle">Temperature (K)</text>
<text transform="translate(1266.60,1071.60) scale(1,1.04)" font-size="35.5" text-anchor="middle">Temperature (K)</text>
<text transform="translate(34.30,421.00) rotate(-90) scale(1,1.0)" font-size="35.5">Peak frequency (cm<tspan font-size="21.3" dy="-19.1">-1</tspan><tspan dy="19.1">)</tspan></text>
<text transform="translate(42.00,847.50) rotate(-90) scale(1,1.0)" font-size="35.5">FWHM (cm<tspan font-size="21.3" dy="-19.5">-1</tspan><tspan dy="19.5">)</tspan></text>
<text transform="translate(838.00,421.30) rotate(-90) scale(1,1.0)" font-size="35.5">Peak frequency (cm<tspan font-size="21.3" dy="-19.55">-1</tspan><tspan dy="19.55">)</tspan></text>
<text transform="translate(839.00,847.30) rotate(-90) scale(1,1.0)" font-size="35.5">FWHM (cm<tspan font-size="21.3" dy="-19.9">-1</tspan><tspan dy="19.9">)</tspan></text>
<text transform="translate(298.8,56.7) scale(1,1.035)" font-size="39.7">T<tspan font-size="23.8" dy="15.5">C</tspan><tspan dy="-15.5">=122K</tspan></text>
<text transform="translate(487.20,60.40) scale(1,1.0)" font-size="39.7" text-anchor="start">Laser Power</text>
<circle cx="533.00" cy="95.60" r="11.5" fill="#0000ff"/>
<text transform="translate(588.50,109.40) scale(1,1.0)" font-size="39.7" text-anchor="start">1.5mW</text>
<rect x="523.10" y="135.00" width="20.0" height="20.0" fill="#ff0000"/>
<text transform="translate(587.50,158.60) scale(1,1.0)" font-size="39.7" text-anchor="start">7.5mW</text>
<text transform="translate(1199.50,72.10) scale(1,1.035)" font-size="39.7" text-anchor="start">Tc=122K</text>
<text transform="translate(1333.00,137.00) scale(1,1.0)" font-size="39.7" text-anchor="start">Laser Power</text>
<circle cx="1378.50" cy="172.40" r="11.5" fill="#0000ff"/>
<text transform="translate(1433.00,185.20) scale(1,1.0)" font-size="39.7" text-anchor="start">7.5 mW</text>
<rect x="1368.60" y="211.00" width="20.0" height="20.0" fill="#ff0000"/>
<text transform="translate(1433.00,234.00) scale(1,1.0)" font-size="39.7" text-anchor="start">28 mW</text>
</svg>
</body></html>
